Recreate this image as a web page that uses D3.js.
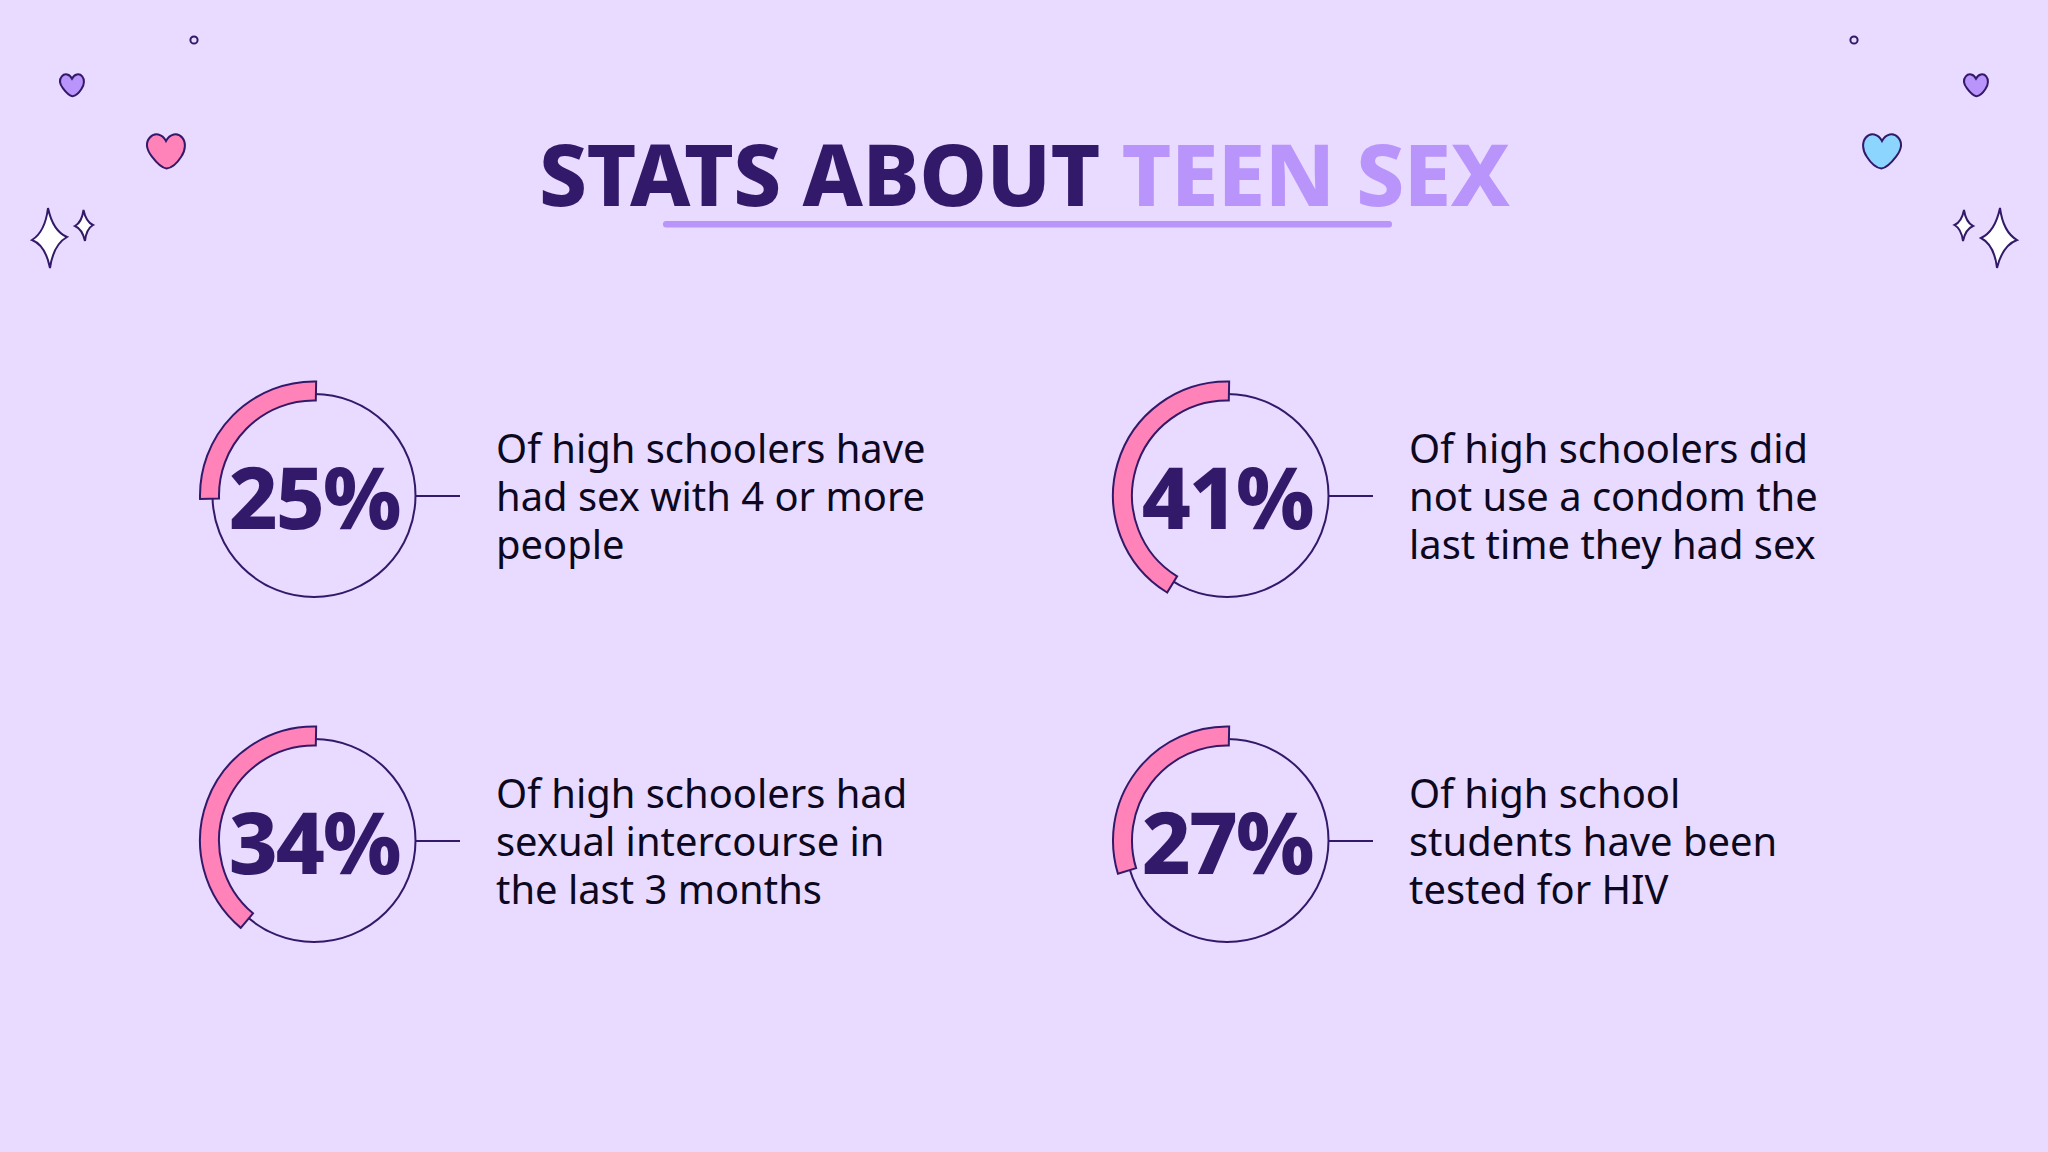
<!DOCTYPE html>
<html lang="en">
<head>
    <meta charset="UTF-8">
    <title>Stats about teen sex</title>
    <script src="https://d3js.org/d3.v7.min.js"></script>
    <style>
        html, body { margin: 0; padding: 0; background: #e9dbff; }
        svg { display: block; font-family: "Noto Sans", sans-serif; }
    </style>
</head>
<body>
    <div id="chart"></div>
    <script>
        // what the slide says
        const titleParts = ['STATS ABOUT ', 'TEEN SEX'];
        const percentLabels = ['25%', '41%', '34%', '27%'];
        // how far each pink arc really reaches (not always the label)
        const arcShares = [25.5, 41.2, 38.9, 29.7];
        const captions = [
            ['Of high schoolers have', 'had sex with 4 or more', 'people'],
            ['Of high schoolers did', 'not use a condom the', 'last time they had sex'],
            ['Of high schoolers had', 'sexual intercourse in', 'the last 3 months'],
            ['Of high school', 'students have been', 'tested for HIV']
        ];

        const width = 2048, height = 1152;
        const dark = '#33196a', pink = '#ff82b8', lilac = '#b994fb', sky = '#8cd5ff';

        const svg = d3.select('#chart').append('svg')
            .attr('width', width)
            .attr('height', height);

        // title
        const title = svg.append('text')
            .attr('x', 539)
            .attr('y', 205.5)
            .attr('font-size', 85.4)
            .attr('font-weight', 800)
            .attr('letter-spacing', -0.5);
        title.selectAll('tspan').data(titleParts).enter().append('tspan')
            .attr('fill', (d, i) => i ? lilac : dark)
            .style('white-space', 'pre')
            .text(d => d);

        svg.append('rect')
            .attr('x', 663).attr('y', 221)
            .attr('width', 729).attr('height', 6.5)
            .attr('rx', 3)
            .attr('fill', lilac);

        // rings, laid out on a 2 x 2 grid
        const col = d3.scalePoint().domain([0, 1]).range([314, 1227]);
        const row = d3.scalePoint().domain([0, 1]).range([495.5, 840.5]);
        const angle = d3.scaleLinear().domain([0, 100]).range([0, -2 * Math.PI]);
        // the pink band starts a touch past twelve o'clock
        const arc = d3.arc().innerRadius(95).outerRadius(114).startAngle(0.019);

        const stat = svg.selectAll('g.stat').data(percentLabels).enter().append('g')
            .attr('class', 'stat')
            .attr('transform', (d, i) => `translate(${col(i % 2)},${row(Math.floor(i / 2))})`);

        stat.append('circle')
            .attr('r', 101.5)
            .attr('fill', 'none')
            .attr('stroke', dark)
            .attr('stroke-width', 2);

        stat.append('line')
            .attr('x1', 101.5).attr('x2', 146)
            .attr('y1', 0.5).attr('y2', 0.5)
            .attr('stroke', dark)
            .attr('stroke-width', 2);

        stat.append('path')
            .attr('d', (d, i) => arc({ endAngle: angle(arcShares[i]) }))
            .attr('fill', pink)
            .attr('stroke', dark)
            .attr('stroke-width', 2);

        stat.append('text')
            .attr('x', 0)
            .attr('y', 33.5)
            .attr('text-anchor', 'middle')
            .attr('font-size', 85)
            .attr('font-weight', 800)
            .attr('letter-spacing', -2)
            .attr('fill', dark)
            .text(d => d);

        stat.append('g').selectAll('text')
            .data((d, i) => captions[i])
            .enter().append('text')
            .attr('x', 182)
            .attr('y', (d, i) => -33 + i * 48)
            .attr('font-size', 39.9)
            .attr('fill', '#0c0820')
            .text(d => d);

        // corner decoration
        const heartPath = 'M0,-0.55 C-0.2,-0.95 -0.6,-1.05 -0.85,-0.75 C-1.1,-0.45 -1,-0.05 -0.75,0.3 ' +
            'C-0.5,0.65 -0.2,0.95 0.03,0.97 C0.3,0.95 0.6,0.65 0.8,0.32 ' +
            'C1.05,-0.05 1.05,-0.5 0.85,-0.75 C0.6,-1.05 0.2,-0.95 0,-0.55 Z';

        const hearts = [
            { x: 72, y: 85, rx: 12, ry: 11.5, fill: lilac },
            { x: 166, y: 151, rx: 19, ry: 18, fill: pink },
            { x: 1976, y: 85, rx: 12, ry: 11.5, fill: lilac },
            { x: 1882, y: 151, rx: 19, ry: 18, fill: sky, flip: true }
        ];
        svg.selectAll('path.heart').data(hearts).enter().append('path')
            .attr('class', 'heart')
            .attr('d', heartPath)
            .attr('transform', d => `translate(${d.x},${d.y}) scale(${d.flip ? -d.rx : d.rx},${d.ry})`)
            .attr('fill', d => d.fill)
            .attr('stroke', dark)
            .attr('stroke-width', 2)
            .attr('vector-effect', 'non-scaling-stroke');

        svg.selectAll('circle.dot').data([194, 1854]).enter().append('circle')
            .attr('class', 'dot')
            .attr('cx', d => d)
            .attr('cy', 40)
            .attr('r', 3.6)
            .attr('fill', 'none')
            .attr('stroke', dark)
            .attr('stroke-width', 2);

        // sparkle tips: top, right, bottom, left
        const sparkles = [
            [[48, 208], [67, 237], [50, 268], [32, 240]],
            [[83.5, 210], [93, 225], [85, 241], [75, 226]],
            [[2000, 208], [2017, 240], [1997, 268], [1981, 238]],
            [[1964, 210], [1973, 226], [1963, 241], [1954.5, 225]]
        ];
        function sparklePath(tips) {
            const cx = d3.mean(tips, p => p[0]), cy = d3.mean(tips, p => p[1]);
            const k = 0.45;
            const next = (a, b) => {
                const mx = cx + ((a[0] + b[0]) / 2 - cx) * k;
                const my = cy + ((a[1] + b[1]) / 2 - cy) * k;
                return `Q${mx},${my} ${b[0]},${b[1]}`;
            };
            return `M${tips[0][0]},${tips[0][1]} ` +
                tips.map((p, i) => next(p, tips[(i + 1) % 4])).join(' ') + ' Z';
        }
        svg.selectAll('path.sparkle').data(sparkles).enter().append('path')
            .attr('class', 'sparkle')
            .attr('d', sparklePath)
            .attr('fill', '#ffffff')
            .attr('stroke', dark)
            .attr('stroke-width', 2)
            .attr('stroke-linejoin', 'miter');
    </script>
</body>
</html>
